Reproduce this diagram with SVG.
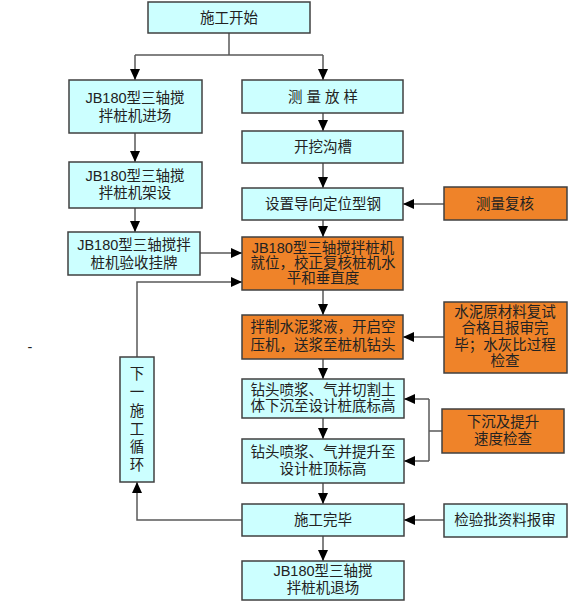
<svg xmlns="http://www.w3.org/2000/svg" width="576" height="616" viewBox="0 0 576 616">
<style>
.b{fill:#CCFFFF;stroke:#404040;stroke-width:1.5}
.o{fill:#EF8329;stroke:#404040;stroke-width:1.5}
text{font-family:"Liberation Sans","Noto Sans CJK SC",sans-serif;font-size:14.5px;fill:#222;text-anchor:middle;dominant-baseline:central}
.c{fill:none;stroke:#595959;stroke-width:1.5}
</style>
<defs>
<marker id="a" markerUnits="userSpaceOnUse" markerWidth="12" markerHeight="10" refX="11" refY="5" orient="auto">
<path d="M0,0 L11,5 L0,10 Z" fill="#000"/>
</marker>
</defs>
<rect width="576" height="616" fill="#fff"/>
<g id="connectors">
<path class="c" d="M229,33 V55 M135,55 H323"/>
<path class="c" d="M135,55 V80" marker-end="url(#a)"/>
<path class="c" d="M323,55 V80" marker-end="url(#a)"/>
<path class="c" d="M135,133 V162" marker-end="url(#a)"/>
<path class="c" d="M135,208 V232" marker-end="url(#a)"/>
<path class="c" d="M200,253 H242" marker-end="url(#a)"/>
<path class="c" d="M323,113 V131" marker-end="url(#a)"/>
<path class="c" d="M323,163 V188" marker-end="url(#a)"/>
<path class="c" d="M444,204 H403" marker-end="url(#a)"/>
<path class="c" d="M323,220 V237" marker-end="url(#a)"/>
<path class="c" d="M323,290 V315" marker-end="url(#a)"/>
<path class="c" d="M444,337 H403" marker-end="url(#a)"/>
<path class="c" d="M323,359 V379" marker-end="url(#a)"/>
<path class="c" d="M323,418 V439" marker-end="url(#a)"/>
<path class="c" d="M442,431 H429 M429,399 V461"/>
<path class="c" d="M429,399 H404" marker-end="url(#a)"/>
<path class="c" d="M429,461 H404" marker-end="url(#a)"/>
<path class="c" d="M323,483 V504" marker-end="url(#a)"/>
<path class="c" d="M444,520 H404" marker-end="url(#a)"/>
<path class="c" d="M323,536 V561" marker-end="url(#a)"/>
<path class="c" d="M242,520 H137 V482" marker-end="url(#a)"/>
<path class="c" d="M137,357 V282 H242" marker-end="url(#a)"/>
</g>
<g id="start"><rect class="b" x="148" y="2" width="162" height="31"/><text x="229" y="18">施工开始</text></g>
<g id="l1"><rect class="b" x="69" y="80" width="133" height="53"/><text x="135" y="98">JB180型三轴搅</text><text x="135" y="116">拌桩机进场</text></g>
<g id="l2"><rect class="b" x="69" y="162" width="133" height="46"/><text x="135" y="176">JB180型三轴搅</text><text x="135" y="193">拌桩机架设</text></g>
<g id="l3"><rect class="b" x="68" y="232" width="132" height="43"/><text x="134" y="245">JB180型三轴搅拌</text><text x="134" y="263">桩机验收挂牌</text></g>
<g id="loop"><rect class="b" x="120" y="357" width="34" height="125"/>
<text x="137" y="374" font-size="13">下</text><text x="137" y="392" font-size="13">一</text><text x="137" y="411" font-size="13">施</text><text x="137" y="429" font-size="13">工</text><text x="137" y="447" font-size="13">循</text><text x="137" y="465" font-size="13">环</text></g>
<g id="r1"><rect class="b" x="242" y="80" width="161" height="33"/><text x="323" y="97">测 量 放 样</text></g>
<g id="r2"><rect class="b" x="242" y="131" width="161" height="32"/><text x="323" y="147">开挖沟槽</text></g>
<g id="r3"><rect class="b" x="242" y="188" width="161" height="32"/><text x="323" y="204">设置导向定位型钢</text></g>
<g id="r4"><rect class="o" x="242" y="237" width="161" height="53"/><text x="323" y="248">JB180型三轴搅拌桩机</text><text x="323" y="263">就位，校正复核桩机水</text><text x="323" y="278">平和垂直度</text></g>
<g id="r5"><rect class="o" x="242" y="315" width="161" height="44"/><text x="323" y="327">拌制水泥浆液，开启空</text><text x="323" y="345">压机，送浆至桩机钻头</text></g>
<g id="r6"><rect class="b" x="242" y="379" width="162" height="39"/><text x="323" y="390">钻头喷浆、气并切割土</text><text x="323" y="406">体下沉至设计桩底标高</text></g>
<g id="r7"><rect class="b" x="242" y="439" width="162" height="44"/><text x="323" y="452">钻头喷浆、气并提升至</text><text x="323" y="469">设计桩顶标高</text></g>
<g id="r8"><rect class="b" x="242" y="504" width="162" height="32"/><text x="323" y="520">施工完毕</text></g>
<g id="r9"><rect class="b" x="242" y="561" width="162" height="39"/><text x="323" y="571">JB180型三轴搅</text><text x="323" y="588">拌桩机退场</text></g>
<g id="s1"><rect class="o" x="444" y="187" width="123" height="33"/><text x="505" y="204">测量复核</text></g>
<g id="s2"><rect class="o" x="444" y="302" width="123" height="71"/><text x="505" y="312">水泥原材料复试</text><text x="505" y="328">合格且报审完</text><text x="505" y="345">毕；水灰比过程</text><text x="505" y="361">检查</text></g>
<g id="s3"><rect class="o" x="442" y="409" width="122" height="44"/><text x="503" y="422">下沉及提升</text><text x="503" y="439">速度检查</text></g>
<g id="s4"><rect class="b" x="444" y="504" width="123" height="33"/><text x="505" y="520">检验批资料报审</text></g>
<text x="30" y="347" font-size="12">-</text>
</svg>
